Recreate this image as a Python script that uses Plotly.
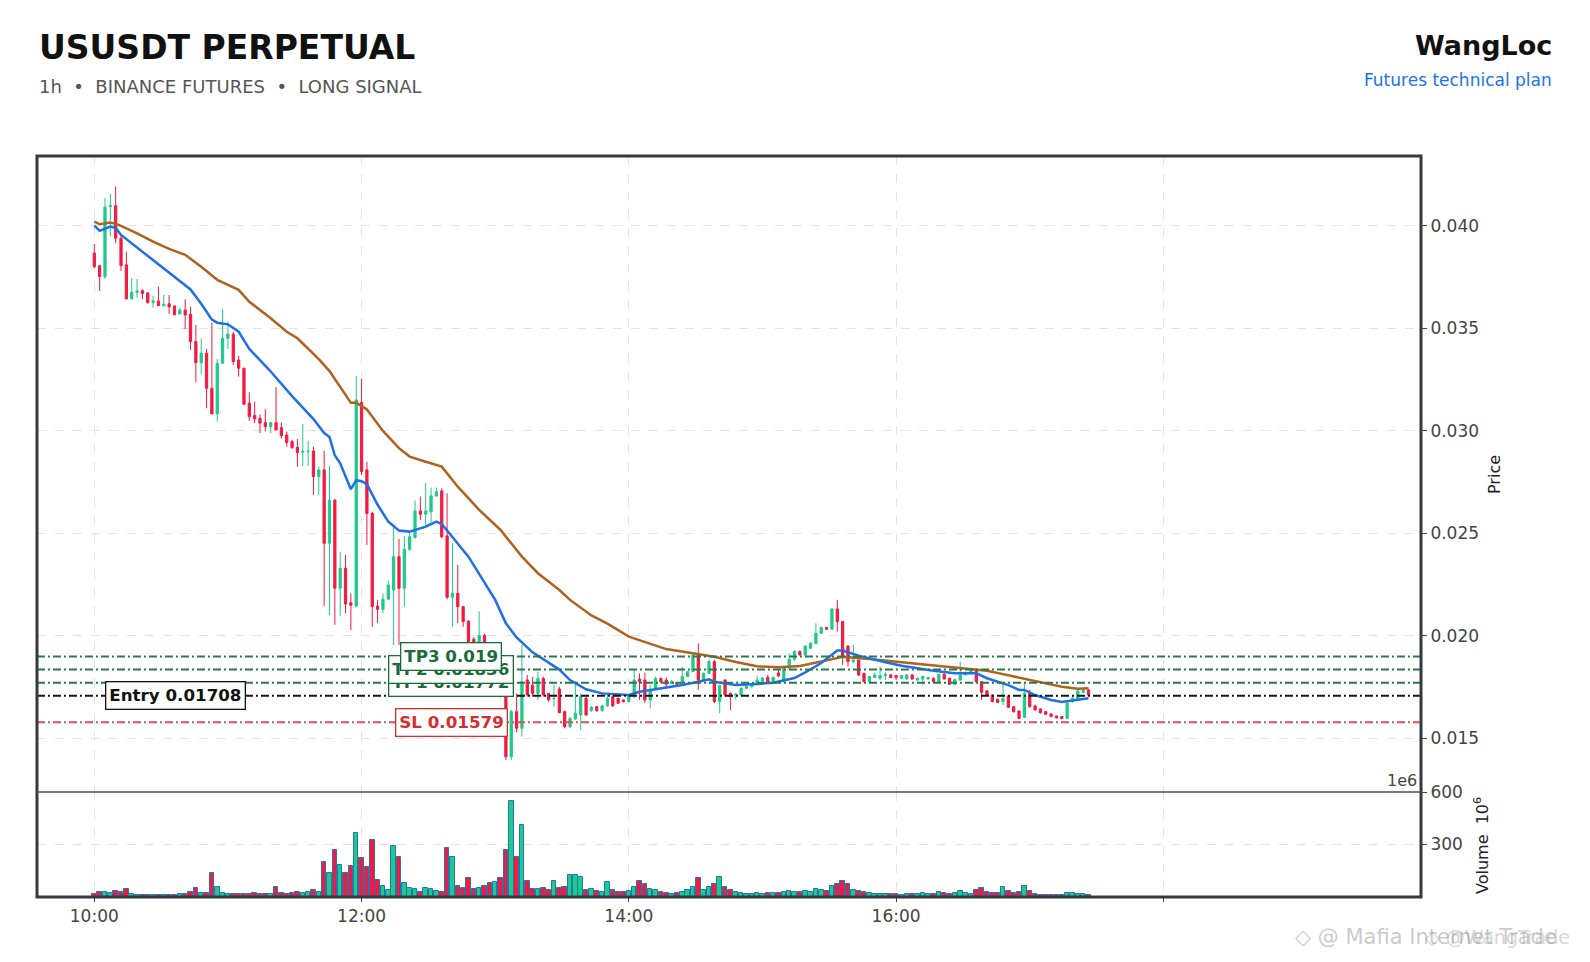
import plotly.graph_objects as go

# price candles (USDT), one per bar
opens = [0.03867, 0.03806, 0.03753, 0.04095, 0.04098, 0.03940, 0.03810, 0.03644, 0.03675, 0.03684,
         0.03673, 0.03626, 0.03634, 0.03611, 0.03620, 0.03610, 0.03571, 0.03590, 0.03569, 0.03436,
         0.03333, 0.03379, 0.03208, 0.03083, 0.03330, 0.03452, 0.03472, 0.03346, 0.03306, 0.03135,
         0.03075, 0.03062, 0.03040, 0.03021, 0.03040, 0.03016, 0.02980, 0.02948, 0.02920, 0.02896,
         0.02899, 0.02902, 0.02777, 0.02810, 0.02452, 0.02663, 0.02233, 0.02330, 0.02162, 0.02146,
         0.03139, 0.02810, 0.02598, 0.02146, 0.02130, 0.02179, 0.02224, 0.02387, 0.02233, 0.02423,
         0.02480, 0.02610, 0.02594, 0.02606, 0.02683, 0.02707, 0.02488, 0.02189, 0.02208, 0.02143,
         0.02073, 0.01984, 0.01965, 0.02003, 0.01932, 0.01840, 0.01870, 0.01712, 0.01411, 0.01631,
         0.01550, 0.01785, 0.01760, 0.01720, 0.01793, 0.01720, 0.01694, 0.01741, 0.01631, 0.01558,
         0.01595, 0.01615, 0.01696, 0.01636, 0.01655, 0.01636, 0.01659, 0.01704, 0.01696, 0.01688,
         0.01680, 0.01712, 0.01790, 0.01785, 0.01688, 0.01737, 0.01793, 0.01785, 0.01769, 0.01773,
         0.01773, 0.01802, 0.01826, 0.01907, 0.01785, 0.01818, 0.01875, 0.01680, 0.01785, 0.01720,
         0.01712, 0.01712, 0.01745, 0.01752, 0.01769, 0.01780, 0.01798, 0.01777, 0.01820, 0.01777,
         0.01842, 0.01886, 0.01924, 0.01907, 0.01940, 0.01964, 0.02013, 0.02041, 0.02033, 0.02132,
         0.02070, 0.01951, 0.01875, 0.01883, 0.01818, 0.01777, 0.01797, 0.01794, 0.01807, 0.01810,
         0.01807, 0.01794, 0.01790, 0.01810, 0.01785, 0.01790, 0.01790, 0.01794, 0.01777, 0.01813,
         0.01794, 0.01764, 0.01785, 0.01810, 0.01823, 0.01834, 0.01777, 0.01732, 0.01712, 0.01691,
         0.01680, 0.01707, 0.01655, 0.01634, 0.01603, 0.01720, 0.01659, 0.01644, 0.01631, 0.01620,
         0.01610, 0.01607, 0.01598, 0.01680, 0.01693, 0.01725, 0.01737]
highs = [0.03912, 0.03806, 0.04135, 0.04156, 0.04192, 0.03956, 0.03875, 0.03746, 0.03741, 0.03691,
         0.03677, 0.03660, 0.03704, 0.03663, 0.03663, 0.03610, 0.03599, 0.03642, 0.03606, 0.03517,
         0.03452, 0.03400, 0.03528, 0.03350, 0.03594, 0.03533, 0.03484, 0.03366, 0.03306, 0.03189,
         0.03143, 0.03081, 0.03106, 0.03045, 0.03213, 0.03042, 0.02997, 0.02956, 0.02960, 0.03034,
         0.02953, 0.02923, 0.02826, 0.02904, 0.02829, 0.02668, 0.02411, 0.02395, 0.02208, 0.03268,
         0.03253, 0.02850, 0.02606, 0.02176, 0.02208, 0.02270, 0.02538, 0.02473, 0.02488, 0.02505,
         0.02661, 0.02680, 0.02748, 0.02724, 0.02724, 0.02720, 0.02696, 0.02452, 0.02346, 0.02143,
         0.02073, 0.01995, 0.02120, 0.02010, 0.01950, 0.01890, 0.01880, 0.01720, 0.01640, 0.01720,
         0.01956, 0.01810, 0.01800, 0.01826, 0.01802, 0.01722, 0.01761, 0.01753, 0.01636, 0.01607,
         0.01780, 0.01720, 0.01704, 0.01660, 0.01660, 0.01665, 0.01712, 0.01710, 0.01700, 0.01690,
         0.01716, 0.01834, 0.01818, 0.01822, 0.01761, 0.01802, 0.01798, 0.01798, 0.01785, 0.01777,
         0.01850, 0.01830, 0.01915, 0.01964, 0.01822, 0.01885, 0.01883, 0.01761, 0.01789, 0.01724,
         0.01720, 0.01750, 0.01760, 0.01770, 0.01806, 0.01800, 0.01810, 0.01802, 0.01836, 0.01845,
         0.01915, 0.01930, 0.01930, 0.01955, 0.01970, 0.02062, 0.02046, 0.02045, 0.02135, 0.02176,
         0.02070, 0.01955, 0.01956, 0.01885, 0.01820, 0.01805, 0.01820, 0.01851, 0.01823, 0.01813,
         0.01810, 0.01810, 0.01815, 0.01813, 0.01797, 0.01805, 0.01800, 0.01797, 0.01815, 0.01818,
         0.01797, 0.01790, 0.01875, 0.01826, 0.01834, 0.01840, 0.01780, 0.01735, 0.01715, 0.01695,
         0.01769, 0.01712, 0.01659, 0.01636, 0.01777, 0.01737, 0.01662, 0.01647, 0.01634, 0.01623,
         0.01612, 0.01609, 0.01676, 0.01712, 0.01735, 0.01745, 0.01740]
lows = [0.03795, 0.03683, 0.03741, 0.03948, 0.03916, 0.03780, 0.03644, 0.03644, 0.03650, 0.03644,
        0.03621, 0.03601, 0.03611, 0.03606, 0.03571, 0.03566, 0.03566, 0.03496, 0.03395, 0.03238,
        0.03277, 0.03111, 0.03083, 0.03045, 0.03330, 0.03400, 0.03322, 0.03265, 0.03127, 0.03049,
        0.03038, 0.02989, 0.02997, 0.02989, 0.03005, 0.02964, 0.02923, 0.02912, 0.02826, 0.02829,
        0.02829, 0.02688, 0.02688, 0.02146, 0.02102, 0.02054, 0.02098, 0.02111, 0.02029, 0.02140,
        0.02785, 0.02444, 0.02045, 0.02062, 0.02111, 0.02179, 0.01956, 0.01956, 0.02143, 0.02415,
        0.02475, 0.02566, 0.02533, 0.02553, 0.02680, 0.02477, 0.02179, 0.02045, 0.02062, 0.02045,
        0.01948, 0.01955, 0.01960, 0.01920, 0.01830, 0.01820, 0.01700, 0.01395, 0.01395, 0.01530,
        0.01509, 0.01704, 0.01704, 0.01688, 0.01704, 0.01680, 0.01655, 0.01623, 0.01550, 0.01550,
        0.01590, 0.01542, 0.01610, 0.01630, 0.01630, 0.01630, 0.01655, 0.01655, 0.01668, 0.01675,
        0.01676, 0.01696, 0.01688, 0.01672, 0.01647, 0.01737, 0.01770, 0.01753, 0.01765, 0.01760,
        0.01769, 0.01800, 0.01826, 0.01737, 0.01780, 0.01815, 0.01672, 0.01623, 0.01704, 0.01639,
        0.01690, 0.01704, 0.01740, 0.01748, 0.01765, 0.01775, 0.01770, 0.01773, 0.01800, 0.01773,
        0.01840, 0.01880, 0.01905, 0.01903, 0.01935, 0.01960, 0.02010, 0.02030, 0.02030, 0.02021,
        0.01859, 0.01851, 0.01867, 0.01805, 0.01775, 0.01775, 0.01795, 0.01785, 0.01785, 0.01794,
        0.01785, 0.01790, 0.01788, 0.01788, 0.01782, 0.01761, 0.01788, 0.01775, 0.01775, 0.01788,
        0.01762, 0.01762, 0.01782, 0.01807, 0.01820, 0.01775, 0.01688, 0.01708, 0.01676, 0.01672,
        0.01663, 0.01648, 0.01626, 0.01595, 0.01600, 0.01650, 0.01636, 0.01622, 0.01615, 0.01605,
        0.01598, 0.01595, 0.01596, 0.01675, 0.01690, 0.01722, 0.01708]
closes = [0.03801, 0.03753, 0.04091, 0.04100, 0.03940, 0.03806, 0.03644, 0.03677, 0.03683, 0.03670,
          0.03626, 0.03634, 0.03611, 0.03618, 0.03605, 0.03566, 0.03590, 0.03566, 0.03436, 0.03333,
          0.03379, 0.03208, 0.03083, 0.03330, 0.03452, 0.03472, 0.03338, 0.03306, 0.03130, 0.03070,
          0.03059, 0.03038, 0.03021, 0.03040, 0.03005, 0.02977, 0.02943, 0.02919, 0.02894, 0.02901,
          0.02901, 0.02777, 0.02810, 0.02452, 0.02663, 0.02233, 0.02330, 0.02156, 0.02150, 0.03151,
          0.02802, 0.02598, 0.02143, 0.02130, 0.02179, 0.02249, 0.02387, 0.02233, 0.02423, 0.02484,
          0.02610, 0.02594, 0.02610, 0.02683, 0.02704, 0.02484, 0.02189, 0.02208, 0.02143, 0.02070,
          0.01972, 0.01965, 0.02003, 0.01932, 0.01840, 0.01870, 0.01712, 0.01411, 0.01631, 0.01550,
          0.01777, 0.01712, 0.01720, 0.01793, 0.01712, 0.01688, 0.01696, 0.01626, 0.01558, 0.01598,
          0.01623, 0.01704, 0.01615, 0.01652, 0.01636, 0.01659, 0.01696, 0.01659, 0.01672, 0.01680,
          0.01712, 0.01785, 0.01777, 0.01688, 0.01737, 0.01793, 0.01777, 0.01765, 0.01777, 0.01765,
          0.01802, 0.01826, 0.01907, 0.01785, 0.01818, 0.01875, 0.01680, 0.01757, 0.01712, 0.01704,
          0.01716, 0.01745, 0.01755, 0.01765, 0.01785, 0.01795, 0.01775, 0.01798, 0.01805, 0.01842,
          0.01886, 0.01924, 0.01907, 0.01951, 0.01964, 0.02013, 0.02041, 0.02033, 0.02132, 0.02070,
          0.01899, 0.01875, 0.01883, 0.01810, 0.01777, 0.01802, 0.01810, 0.01807, 0.01813, 0.01797,
          0.01797, 0.01807, 0.01810, 0.01790, 0.01794, 0.01802, 0.01797, 0.01777, 0.01813, 0.01790,
          0.01764, 0.01788, 0.01810, 0.01823, 0.01830, 0.01777, 0.01725, 0.01712, 0.01680, 0.01676,
          0.01696, 0.01652, 0.01631, 0.01598, 0.01720, 0.01655, 0.01639, 0.01626, 0.01618, 0.01607,
          0.01600, 0.01597, 0.01672, 0.01696, 0.01732, 0.01737, 0.01712]

# volume per bar, in millions
volume_m = [18, 30, 28, 22, 35, 30, 47, 20, 14, 10,
            12, 10, 12, 10, 14, 12, 16, 20, 28, 51,
            22, 25, 137, 57, 22, 18, 16, 15, 18, 18,
            22, 20, 18, 16, 57, 22, 18, 24, 26, 24,
            30, 38, 30, 200, 137, 268, 183, 137, 177, 366,
            223, 171, 325, 99, 62, 40, 291, 228, 80, 51,
            45, 30, 51, 45, 35, 30, 280, 228, 62, 51,
            106, 45, 51, 62, 80, 85, 106, 268, 548, 228,
            411, 91, 45, 45, 51, 42, 91, 51, 57, 125,
            125, 114, 40, 45, 35, 30, 85, 38, 30, 28,
            35, 57, 91, 74, 45, 38, 30, 25, 20, 22,
            30, 40, 57, 108, 40, 57, 74, 114, 57, 40,
            30, 25, 20, 18, 22, 20, 25, 22, 25, 30,
            35, 30, 28, 32, 30, 45, 38, 35, 62, 74,
            91, 74, 40, 35, 30, 22, 18, 20, 15, 18,
            15, 14, 18, 16, 15, 22, 18, 20, 28, 22,
            18, 25, 35, 22, 20, 40, 51, 30, 25, 22,
            57, 35, 25, 28, 62, 35, 15, 12, 12, 10,
            12, 12, 22, 22, 15, 15, 12]

# moving average lines, read as (bar, price) points
ema_fast_at = [0, 1, 3, 4, 5, 7, 11, 14, 18, 20, 22, 23, 25, 27, 29, 33, 35, 37, 41, 43,
               44, 45, 46, 48, 49, 50, 51, 53, 55, 57, 59, 62, 64, 65, 70, 75, 77, 79, 82, 87,
               89, 92, 95, 100, 102, 105, 110, 113, 115, 116, 120, 124, 127, 131, 133, 136, 139, 140, 143, 148,
               151, 157, 161, 165, 167, 171, 173, 174, 176, 179, 181, 183, 186]
ema_fast = [0.04001, 0.03976, 0.03997, 0.03990, 0.03956, 0.03915, 0.03834, 0.03769, 0.03690, 0.03620,
            0.03543, 0.03528, 0.03520, 0.03484, 0.03400, 0.03290, 0.03230, 0.03170, 0.03058, 0.02990,
            0.02970, 0.02880, 0.02842, 0.02716, 0.02760, 0.02755, 0.02740, 0.02640, 0.02558, 0.02514,
            0.02509, 0.02533, 0.02558, 0.02546, 0.02387, 0.02176, 0.02062, 0.01993, 0.01920, 0.01836,
            0.01785, 0.01740, 0.01720, 0.01712, 0.01728, 0.01740, 0.01761, 0.01777, 0.01789, 0.01777,
            0.01761, 0.01766, 0.01772, 0.01795, 0.01822, 0.01868, 0.01929, 0.01929, 0.01904, 0.01872,
            0.01855, 0.01830, 0.01818, 0.01818, 0.01794, 0.01760, 0.01737, 0.01737, 0.01712, 0.01688,
            0.01678, 0.01685, 0.01696]
ema_slow_at = [0, 1, 3, 4, 5, 8, 11, 14, 17, 20, 23, 27, 29, 33, 36, 38, 42, 44, 48, 49,
               51, 54, 57, 59, 62, 65, 68, 72, 76, 80, 83, 87, 89, 93, 96, 100, 107, 113, 116, 120,
               124, 128, 132, 136, 140, 145, 151, 157, 163, 167, 170, 176, 181, 184, 186]
ema_slow = [0.04021, 0.04008, 0.04016, 0.04010, 0.04000, 0.03964, 0.03923, 0.03888, 0.03859, 0.03801,
            0.03737, 0.03688, 0.03630, 0.03550, 0.03484, 0.03452, 0.03350, 0.03292, 0.03137, 0.03137,
            0.03105, 0.03000, 0.02916, 0.02875, 0.02850, 0.02826, 0.02728, 0.02615, 0.02517, 0.02387,
            0.02306, 0.02224, 0.02176, 0.02100, 0.02060, 0.01997, 0.01936, 0.01910, 0.01899, 0.01873,
            0.01852, 0.01847, 0.01854, 0.01875, 0.01899, 0.01888, 0.01872, 0.01859, 0.01842, 0.01830,
            0.01814, 0.01779, 0.01752, 0.01743, 0.01745]

time_ticks = [0, 50, 100, 150, 200]
time_labels = ["10:00", "12:00", "14:00", "16:00", ""]
price_ticks = [0.015, 0.020, 0.025, 0.030, 0.035, 0.040]
volume_ticks = [300, 600]

level_names = ["TP1", "TP2", "TP3", "Entry", "SL"]
level_prices = [0.01772, 0.01836, 0.019, 0.01708, 0.01579]

UP = "#20c98b"
DOWN = "#f5193f"
GREEN = "#2b7a4b"
FONT = "DejaVu Sans"

# plot area in page pixels
L, R, T, B = 37, 1421, 156, 897


def fx(px):
    return (px - L) / (R - L)


def fy(py):
    return (B - py) / (B - T)


split = fy(792)
bars = list(range(len(opens)))
bar_colors = [UP if c >= o else DOWN for o, c in zip(opens, closes)]

fig = go.Figure()
fig.add_trace(go.Candlestick(
    x=bars, open=opens, high=highs, low=lows, close=closes,
    increasing=dict(line=dict(color=UP, width=1), fillcolor=UP),
    decreasing=dict(line=dict(color=DOWN, width=1), fillcolor=DOWN),
    whiskerwidth=0, showlegend=False, xaxis="x", yaxis="y"))
fig.add_trace(go.Scatter(x=ema_slow_at, y=ema_slow, mode="lines",
                         line=dict(color="#b0621d", width=2.5), showlegend=False))
fig.add_trace(go.Scatter(x=ema_fast_at, y=ema_fast, mode="lines",
                         line=dict(color="#1f6fe8", width=2.5), showlegend=False))
fig.add_trace(go.Bar(x=bars, y=volume_m, width=0.85,
                     marker=dict(color=bar_colors, line=dict(color="#1f77b4", width=1)),
                     showlegend=False, xaxis="x2", yaxis="y2"))

# trade levels and their tags
level_style = {
    "TP1": dict(line=GREEN, text="#1b6b3a", at=55.0),
    "TP2": dict(line=GREEN, text="#1b6b3a", at=55.0),
    "TP3": dict(line=GREEN, text="#1b6b3a", at=57.2),
    "Entry": dict(line="#151515", text="#111111", at=2.0),
    "SL": dict(line="#d9534f", text="#d32f2f", at=56.2),
}
shapes = []
for name, price in zip(level_names, level_prices):
    st = level_style[name]
    shapes.append(dict(type="line", xref="paper", yref="y", x0=0, x1=1, y0=price, y1=price,
                       line=dict(color=st["line"], width=2, dash="8px,3px,2px,3px")))

# frame and panel divider
shapes.append(dict(type="rect", xref="paper", yref="paper", x0=0, x1=1, y0=0, y1=1,
                   line=dict(color="#353a42", width=3)))
shapes.append(dict(type="line", xref="paper", yref="paper", x0=0, x1=1, y0=split, y1=split,
                   line=dict(color="#4a4f57", width=1.5)))

annotations = []
for name, price in zip(level_names, level_prices):
    st = level_style[name]
    annotations.append(dict(x=st["at"], y=price, xref="x", yref="y", xanchor="left", yanchor="middle",
                            text=f"<b>{name} {price:g}</b>", showarrow=False,
                            font=dict(family=FONT, size=16.7, color=st["text"]),
                            bgcolor="white", bordercolor=st["text"], borderwidth=1.3, borderpad=3))

texts = [
    dict(x=fx(37), y=fy(48), xanchor="left", text="<b>USUSDT PERPETUAL</b>",
         font=dict(size=33, color="#111111")),
    dict(x=fx(37), y=fy(86), xanchor="left", text="1h  •  BINANCE FUTURES  •  LONG SIGNAL",
         font=dict(size=18, color="#555555")),
    dict(x=fx(1554), y=fy(46), xanchor="right", text="<b>WangLoc</b>",
         font=dict(size=27, color="#111111")),
    dict(x=fx(1554), y=fy(80), xanchor="right", text="Futures technical plan",
         font=dict(size=17, color="#1a73e8")),
    dict(x=fx(1494), y=fy(474), xanchor="center", text="Price", textangle=-90,
         font=dict(size=16, color="#222222")),
    dict(x=fx(1481), y=fy(846), xanchor="center", text="Volume  10<sup>6</sup>", textangle=-90,
         font=dict(size=16, color="#222222")),
    dict(x=fx(1419), y=fy(780), xanchor="right", text="1e6",
         font=dict(size=16, color="#444444")),
    dict(x=fx(1293), y=fy(937), xanchor="left", text="◇ @ Mafia Internet Trade",
         font=dict(size=21, color="rgba(150,150,150,0.5)")),
    dict(x=fx(1423), y=fy(937), xanchor="left", text="◇ @WangTrade",
         font=dict(size=19, color="rgba(150,150,150,0.4)")),
]
for t in texts:
    t["font"]["family"] = FONT
    annotations.append(dict(xref="paper", yref="paper", yanchor="middle", showarrow=False, **t))

grid = dict(showgrid=True, gridcolor="#e4e4e4", griddash="dash", gridwidth=1, zeroline=False)
xrange = [-10.72, 248.2]
fig.update_layout(
    width=1590, height=962,
    margin=dict(l=L, r=1590 - R, t=T, b=962 - B),
    paper_bgcolor="white", plot_bgcolor="white",
    font=dict(family=FONT, size=16, color="#444444"),
    showlegend=False, boxgap=0.4, bargap=0,
    shapes=shapes, annotations=annotations,
    xaxis=dict(domain=[0, 1], anchor="y", range=xrange, tickvals=time_ticks, ticktext=time_labels,
               showticklabels=False, rangeslider=dict(visible=False), **grid),
    xaxis2=dict(domain=[0, 1], anchor="y2", matches="x", range=xrange, tickvals=time_ticks,
                ticktext=time_labels, ticks="outside", ticklen=4, tickcolor="#444444",
                tickfont=dict(size=17, color="#444444"), **grid),
    yaxis=dict(domain=[split, 1], anchor="x", side="right", range=[0.01239, 0.04341],
               tickvals=price_ticks, tickformat=".3f", ticks="outside", ticklen=5,
               tickcolor="#444444", tickfont=dict(size=17, color="#444444"), **grid),
    yaxis2=dict(domain=[0, split], anchor="x2", side="right", range=[0, 600],
                tickvals=volume_ticks, ticks="outside", ticklen=5, tickcolor="#444444",
                tickfont=dict(size=17, color="#444444"), **grid),
)

# page margin off so the figure sits at the window's corner
fig.write_html("out.html", config={"displayModeBar": False},
               post_script="document.body.style.margin = '0';")
